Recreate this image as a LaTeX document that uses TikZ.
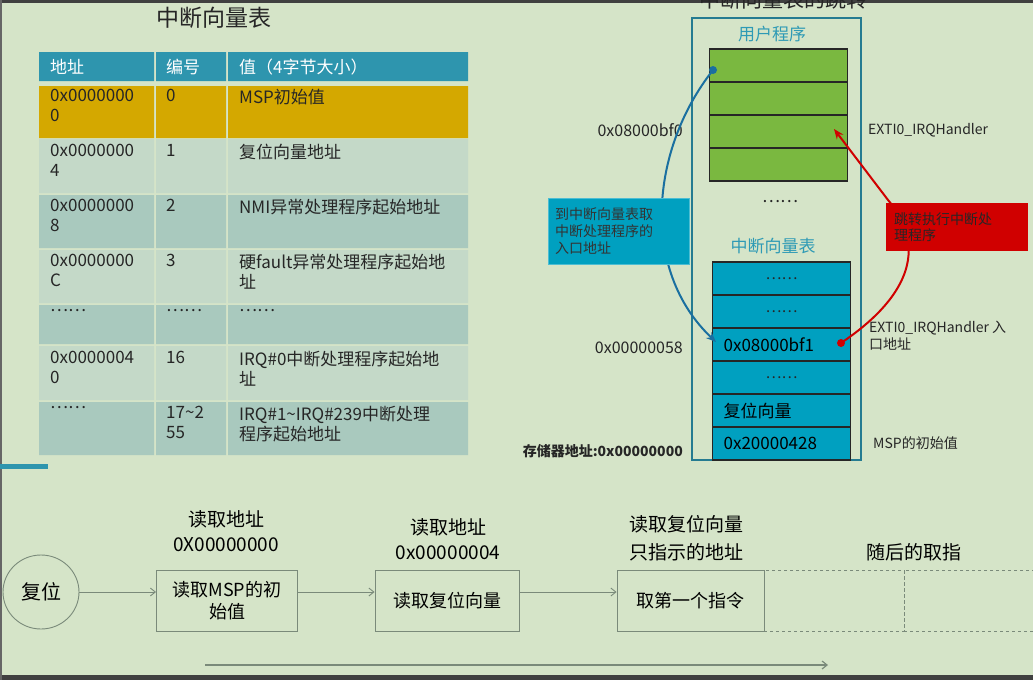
\documentclass[tikz,border=0pt]{standalone}
\usepackage{fontspec}
\setmainfont{Noto Sans CJK SC}
\usetikzlibrary{arrows.meta,shapes.geometric}
\definecolor{bg}{HTML}{D5E4C8}
\definecolor{hdr}{HTML}{2E95AE}
\definecolor{gold}{HTML}{D4A800}
\definecolor{rowA}{HTML}{C4D9C8}
\definecolor{rowB}{HTML}{A9C9BE}
\definecolor{grn}{HTML}{7AB840}
\definecolor{cyn}{HTML}{00A0C0}
\definecolor{ttl}{HTML}{2E9AB5}
\definecolor{arrb}{HTML}{1A6FA0}
\definecolor{redc}{HTML}{D00000}
\definecolor{gl}{HTML}{7A8A7A}
\newcommand{\fs}[1]{\fontsize{#1pt}{1.2\dimexpr#1pt\relax}\selectfont}
\tikzset{
 cell/.style={anchor=north west,inner sep=0pt,align=left,font=\fs{17},text=black!85},
 hcell/.style={anchor=west,inner sep=0pt,font=\fs{17},text=white},
 mem/.style={draw=black!85,line width=1.2pt,minimum width=138pt,minimum height=33pt,inner sep=0pt},
 lab/.style={inner sep=0pt,font=\fs{16},text=black!85},
 fbox/.style={draw=gl,line width=0.9pt,minimum height=61pt,inner sep=2pt,align=center,font=\fs{18}},
 flow/.style={draw=gl,line width=0.9pt,-{Straight Barb[length=5pt,width=8pt]}},
 captext/.style={inner sep=0pt,font=\fs{19},align=center}
}
\begin{document}
\begin{tikzpicture}[x=1pt,y=-1pt]
\useasboundingbox (0,0) rectangle (1033,680);
\clip (0,0) rectangle (1033,680);
\fill[bg] (0,0) rectangle (1033,680);
\fill[black!75] (0,0) rectangle (1033,3);
\fill[black!75] (0,675) rectangle (1033,680);
\fill[black!60] (0,0) rectangle (2,680);
\fill[hdr] (0,464) rectangle (48,469);
% table
\node[lab,font=\fs{23}] (ttl1) at (214,18) {中断向量表};
\fill[hdr] (39,52) rectangle (154,81) (156,52) rectangle (226,81) (228,52) rectangle (468,81);
\node[hcell] (h1) at (50,67) {地址};
\node[hcell] (h2) at (166,67) {编号};
\node[hcell] (h3) at (239,67) {值（4字节大小）};
\foreach \ya/\yb/\c in {86/138/gold,139/193/rowA,195/248/rowB,250/303/rowA,305/344/rowB,346/400/rowA,402/455/rowB}{
 \fill[\c] (39,\ya) rectangle (154,\yb) (156,\ya) rectangle (226,\yb) (228,\ya) rectangle (468,\yb);
}
\node[cell] (a1) at (50,89) {0x0000000\\0};
\node[cell] (b1) at (166,89) {0};
\node[cell] (c1) at (239,89) {MSP初始值};
\node[cell] (a2) at (50,144) {0x0000000\\4};
\node[cell] (b2) at (166,144) {1};
\node[cell] (c2) at (239,144) {复位向量地址};
\node[cell] (a3) at (50,199) {0x0000000\\8};
\node[cell] (b3) at (166,199) {2};
\node[cell] (c3) at (239,199) {NMI异常处理程序起始地址};
\node[cell] (a4) at (50,254) {0x0000000\\C};
\node[cell] (b4) at (166,254) {3};
\node[cell] (c4) at (239,254) {硬fault异常处理程序起始地\\址};
\node[cell] (a5) at (50,309) {……};
\node[cell] (b5) at (166,309) {……};
\node[cell] (c5) at (239,309) {……};
\node[cell] (a6) at (50,351) {0x0000004\\0};
\node[cell] (b6) at (166,351) {16};
\node[cell] (c6) at (239,351) {IRQ\#0中断处理程序起始地\\址};
\node[cell] (a7) at (50,406) {……};
\node[cell] (b7) at (166,406) {17\textasciitilde2\\55};
\node[cell] (c7) at (239,406) {IRQ\#1\textasciitilde IRQ\#239中断处理\\程序起始地址};
% right diagram
\node[lab,font=\fs{21}] (ttl2) at (783,0) {中断向量表的跳转};
\draw[ttl!80!black,line width=1.8pt] (692,18) rectangle (861,460);
\node[lab,font=\fs{17},text=ttl] (up) at (772,34) {用户程序};
\foreach \i in {0,...,3}{
 \node[mem,fill=grn] (g\i) at (778.5,{65.5+33*\i}) {};
}
\node[lab,font=\fs{17}] (dots) at (780,202) {……};
\node[lab,font=\fs{17},text=ttl] (vt) at (773,246) {中断向量表};
\foreach \i/\t in {0/{},1/{},2/0x08000bf1,3/{},4/复位向量,5/0x20000428}{
 \node[mem,fill=cyn,anchor=west,inner xsep=11pt,text width=116pt,align=left,font=\fs{17}] (v\i) at (712,{278.5+33*\i}) {\t};
}
\foreach \i in {0,1,3}{\node[lab,font=\fs{15}] (vd\i) at (v\i.center) {……};}
\node[lab,anchor=east] (l1) at (683,130) {0x08000bf0};
\node[lab,anchor=east] (l2) at (683,348) {0x00000058};
\node[lab,anchor=east,font=\bfseries\fs{14}] (l3) at (683,451) {存储器地址:0x00000000};
\node[lab,anchor=west,font=\fs{14}] (r1) at (868,130) {EXTI0\_IRQHandler};
\node[lab,anchor=north west,align=left,font=\fs{14}] (r2) at (869,321) {EXTI0\_IRQHandler 入\\口地址};
\node[lab,anchor=west,font=\fs{14}] (r3) at (873,443) {MSP的初始值};
\coordinate (bs) at (713,70);
\coordinate (be) at (716,342);
\coordinate (rs) at (841,343);
\coordinate (re) at (834,129);
\draw[arrb,line width=2pt,-{Stealth[length=10pt,width=8pt]}] (bs) .. controls (650,150) and (640,270) .. (be);
\fill[arrb] (bs) circle (4);
\draw[redc,line width=2pt,-{Stealth[length=10pt,width=8pt]}] (rs) .. controls (905,300) and (930,250) .. (888,200) -- (re);
\fill[redc] (rs) circle (4);
\node[fill=cyn,draw=cyn!70!white,minimum width=141pt,minimum height=66pt,anchor=north west,inner sep=7pt,align=left,font=\fs{14},text=black!80,text width=127pt] (bb) at (548,198) {到中断向量表取\\中断处理程序的\\入口地址};
\node[fill=redc,minimum width=142pt,minimum height=48pt,anchor=north west,inner sep=8pt,align=left,font=\fs{14},text=black!85,text width=126pt] (rb) at (886,203) {跳转执行中断处\\理程序};
% bottom flow
\node[draw=gl,line width=0.9pt,ellipse,minimum width=76pt,minimum height=74pt,inner sep=0pt,font=\fs{20}] (rst) at (41,592) {复位};
\node[fbox,minimum width=141pt] (f1) at (227,600.5) {读取MSP的初\\始值};
\node[fbox,minimum width=144pt] (f2) at (447,600.5) {读取复位向量};
\node[fbox,minimum width=147pt] (f3) at (690.5,600.5) {取第一个指令};
\node[draw=gl,dashed,line width=0.9pt,minimum width=140pt,minimum height=61pt,inner sep=0pt] (d1) at (834,600.5) {};
\node[draw=gl,dashed,line width=0.9pt,minimum width=140pt,minimum height=61pt,inner sep=0pt] (d2) at (974,600.5) {};
\draw[flow] (rst.east) -- (f1.west |- rst.east);
\draw[flow] (f1.east |- rst.east) -- (f2.west |- rst.east);
\draw[flow] (f2.east |- rst.east) -- (f3.west |- rst.east);
\node[captext] (t1) at (226,519) {读取地址};
\node[captext] (t1b) at (226,545) {0X00000000};
\node[captext] (t2) at (448,527) {读取地址};
\node[captext] (t2b) at (448,553) {0x00000004};
\node[captext] (t3) at (686,524) {读取复位向量};
\node[captext] (t3b) at (686,552) {只指示的地址};
\node[captext] (t4) at (914,552) {随后的取指};
\coordinate (ts) at (205,665);
\coordinate (te) at (828,665);
\draw[flow,line width=1.2pt] (ts) -- (te);
\end{tikzpicture}
\end{document}
